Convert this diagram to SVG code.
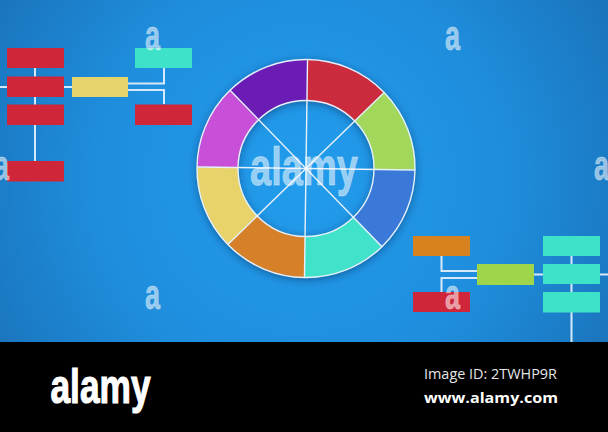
<svg xmlns="http://www.w3.org/2000/svg" width="608" height="432" viewBox="0 0 608 432">
<defs>
<radialGradient id="bg" cx="300" cy="180" r="380" gradientUnits="userSpaceOnUse">
<stop offset="0" stop-color="#229cec"/>
<stop offset="0.55" stop-color="#1e8ddc"/>
<stop offset="1" stop-color="#1a6fb6"/>
</radialGradient>
<filter id="sh" x="-20%" y="-20%" width="140%" height="140%">
<feDropShadow dx="0" dy="2" stdDeviation="4" flood-color="#0a2a55" flood-opacity="0.55"/>
</filter>
<style>
.ln{stroke:#d4eafc;stroke-width:2;fill:none}
.red{fill:#cf2639}
.cyan{fill:#3ee2c8}
.wm{font-family:"Liberation Sans",Arial,sans-serif;font-weight:bold;fill:#ffffff;fill-opacity:0.55;stroke:#ffffff;stroke-opacity:0.35;stroke-width:1}
.sp{stroke:#e6f1fb;stroke-width:1.4;fill:none}
</style>
</defs>
<rect x="0" y="0" width="608" height="342" fill="url(#bg)"/>
<rect x="0" y="342" width="608" height="90" fill="#000"/>

<g id="connectors">
<line class="ln" x1="0" y1="87" x2="7" y2="87"/>
<line class="ln" x1="35" y1="68" x2="35" y2="161"/>
<line class="ln" x1="64" y1="87" x2="72" y2="87"/>
<polyline class="ln" points="128,83.5 164,83.5 164,68"/>
<polyline class="ln" points="128,90 164,90 164,104"/>
<polyline class="ln" points="441.5,256 441.5,271 477,271"/>
<polyline class="ln" points="477,278 441.5,278 441.5,292"/>
<line class="ln" x1="534" y1="274.5" x2="543" y2="274.5"/>
<line class="ln" x1="600" y1="274.5" x2="608" y2="274.5"/>
<line class="ln" x1="571.5" y1="256" x2="571.5" y2="342"/>
</g>

<g id="left-chart">
<rect id="l-red1" class="red" x="7" y="48" width="57" height="20"/>
<rect id="l-red2" class="red" x="7" y="76.5" width="57" height="20.5"/>
<rect id="l-red3" class="red" x="7" y="104.5" width="57" height="20.5"/>
<rect id="l-red4" class="red" x="7" y="161" width="57" height="20.5"/>
<rect id="l-yellow" x="72" y="77" width="56" height="20" fill="#e6d36b"/>
<rect id="l-cyan" class="cyan" x="135" y="48" width="57" height="20"/>
<rect id="l-red5" class="red" x="135" y="104.5" width="57" height="20.5"/>
</g>

<g id="right-chart">
<rect id="r-orange" x="413" y="236" width="57" height="20" fill="#d8821f"/>
<rect id="r-red" class="red" x="413" y="292" width="57" height="20"/>
<rect id="r-green" x="477" y="264" width="57" height="21" fill="#9fd54b"/>
<rect id="r-teal1" class="cyan" x="543" y="236" width="57" height="20"/>
<rect id="r-teal2" class="cyan" x="543" y="264" width="57" height="20"/>
<rect id="r-teal3" class="cyan" x="543" y="292" width="57" height="20.5"/>
</g>

<g id="donut" transform="rotate(0.8 306 168.5)">
<g filter="url(#sh)">
<path d="M306,59.5 A109,109 0 0 1 383.07,91.43 L354.08,120.42 A68,68 0 0 0 306,100.5 Z" fill="#cc2a3c"/>
<path d="M383.07,91.43 A109,109 0 0 1 415,168.5 L374,168.5 A68,68 0 0 0 354.08,120.42 Z" fill="#a1d85b"/>
<path d="M415,168.5 A109,109 0 0 1 383.07,245.57 L354.08,216.58 A68,68 0 0 0 374,168.5 Z" fill="#3b79d8"/>
<path d="M383.07,245.57 A109,109 0 0 1 306,277.5 L306,236.5 A68,68 0 0 0 354.08,216.58 Z" fill="#3fe3c9"/>
<path d="M306,277.5 A109,109 0 0 1 228.93,245.57 L257.92,216.58 A68,68 0 0 0 306,236.5 Z" fill="#d6812a"/>
<path d="M228.93,245.57 A109,109 0 0 1 197,168.5 L238,168.5 A68,68 0 0 0 257.92,216.58 Z" fill="#e8d26b"/>
<path d="M197,168.5 A109,109 0 0 1 228.93,91.43 L257.92,120.42 A68,68 0 0 0 238,168.5 Z" fill="#c84fd7"/>
<path d="M228.93,91.43 A109,109 0 0 1 306,59.5 L306,100.5 A68,68 0 0 0 257.92,120.42 Z" fill="#6b1db5"/>
</g>
<circle class="sp" cx="306" cy="168.5" r="109"/>
<circle class="sp" cx="306" cy="168.5" r="68"/>
<line class="sp" x1="306" y1="59.5" x2="306" y2="277.5"/>
<line class="sp" x1="197" y1="168.5" x2="415" y2="168.5"/>
<line class="sp" x1="228.93" y1="91.43" x2="383.07" y2="245.57"/>
<line class="sp" x1="383.07" y1="91.43" x2="228.93" y2="245.57"/>
</g>

<g id="watermark">
<text class="wm" x="250" y="185" font-size="53" textLength="108" lengthAdjust="spacingAndGlyphs">alamy</text>
<text class="wm" x="145" y="50" font-size="42" textLength="15" lengthAdjust="spacingAndGlyphs">a</text>
<text class="wm" x="445" y="50" font-size="42" textLength="15" lengthAdjust="spacingAndGlyphs">a</text>
<text class="wm" x="594" y="180" font-size="42" textLength="15" lengthAdjust="spacingAndGlyphs">a</text>
<text class="wm" x="-6" y="180" font-size="42" textLength="15" lengthAdjust="spacingAndGlyphs">a</text>
<text class="wm" x="145" y="309" font-size="42" textLength="15" lengthAdjust="spacingAndGlyphs">a</text>
<text class="wm" x="445" y="309" font-size="42" textLength="15" lengthAdjust="spacingAndGlyphs">a</text>
</g>

<g id="footer">
<text x="50.5" y="403" font-family="'Liberation Sans',Arial,sans-serif" font-weight="bold" font-size="48" fill="#ffffff" stroke="#ffffff" stroke-width="1.2" textLength="100" lengthAdjust="spacingAndGlyphs">alamy</text>
<text x="424" y="379" font-family="'Open Sans','Noto Sans',sans-serif" font-size="14" fill="#e6e6e6" textLength="133" lengthAdjust="spacingAndGlyphs">Image ID: 2TWHP9R</text>
<text x="424" y="403" font-family="'Open Sans','Noto Sans',sans-serif" font-weight="bold" font-size="15" fill="#ffffff" textLength="134" lengthAdjust="spacingAndGlyphs">www.alamy.com</text>
</g>
</svg>
